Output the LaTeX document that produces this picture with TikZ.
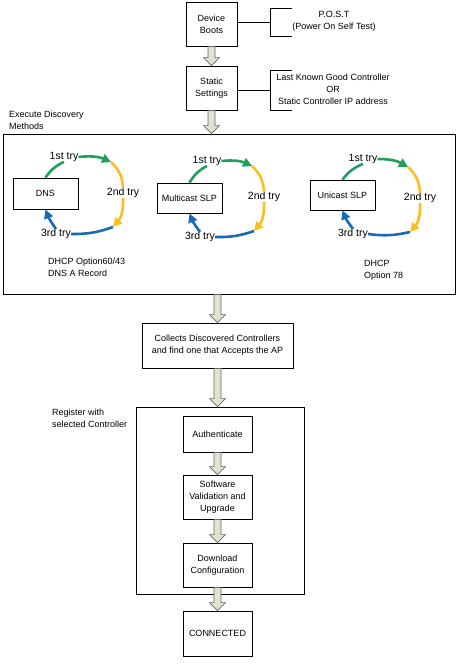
\documentclass[tikz,border=0pt]{standalone}
\usepackage{fontspec}
\setmainfont{Liberation Sans}
\usetikzlibrary{arrows.meta,positioning,calc}
\definecolor{tryg}{RGB}{30,160,90}
\definecolor{tryy}{RGB}{250,190,30}
\definecolor{tryb}{RGB}{25,105,185}
\definecolor{blkf}{RGB}{226,226,208}
\begin{document}
\begin{tikzpicture}[x=1pt,y=-1pt,inner sep=0pt]
  \useasboundingbox(0,0)rectangle(457,672);
  \fontsize{9}{12}\selectfont
  \tikzstyle{b}=[draw,line width=0.8pt,align=center,minimum width=69pt,minimum height=44pt]
  \tikzstyle{t}=[font=\fontsize{10.5}{12}\selectfont]
  \node[b,minimum width=51pt](boot)at(211.5,24){Device\\Boots};
  \node[b,minimum width=51pt](stat)at(211.5,88){Static\\Settings};
  \node[align=center](post)at(334,21){P.O.S.T\\(Power On Self Test)};
  \node[align=center](lkg)at(333,89){Last Known Good Controller\\OR\\Static Controller IP address};
  \coordinate(pb)at(270,22);\coordinate(lb)at(270,90);
  \draw[line width=0.8pt](boot.east|-pb)--(pb);\draw[line width=0.8pt](292,8)-|(270,36)--(292,36);
  \draw[line width=0.8pt](stat.east|-lb)--(lb);\draw[line width=0.8pt](292,70)-|(270,110)--(292,110);
  \node[align=left,anchor=west](exec)at(9,120.5){Execute Discovery\\Methods};
  \node[b,minimum width=452pt,minimum height=160pt](disc)at(229,214){};
  \node[b,minimum width=65pt,minimum height=31pt](dns)at(45.5,193.5){DNS};
  \node[b,minimum width=65pt,minimum height=30pt](mslp)at(189.5,198){Multicast SLP};
  \node[b,minimum width=65pt,minimum height=30pt](uslp)at(342.5,195){Unicast SLP};
  \node[align=left,anchor=west](dhcpa)at(48,267){DHCP Option60/43\\DNS A Record};
  \node[align=left,anchor=west](dhcpb)at(364,270){DHCP\\Option 78};
  % try labels and arc ends
  \foreach\p/\ax/\ay/\bx/\by/\cx/\cy in{a/64/157/123/193/56/234,b/207/161/264/197/200/237,c/363/159/420/198/353/234}{
    \node[t](\p-1)at(\ax,\ay){1st try};
    \node[t](\p-2)at(\bx,\by){2nd try};
    \node[t](\p-3)at(\cx,\cy){3rd try};
    \coordinate(\p-g)at($(\bx,\by)+(-12,-31)$);
    \coordinate(\p-y)at($(\bx,\by)+(-10,34)$);}
  \tikzstyle{c}=[line width=2.6pt,bend left=15]
  \tikzstyle{h}=[-{Triangle[length=9pt,width=9pt]}]
  \foreach\o/\p in{dns/a,mslp/b,uslp/c}{
    \draw[c,tryg](\o.north)to(\p-1.south);
    \draw[c,h,tryg](\p-1.east)to(\p-g);
    \draw[c,tryy,bend left=22](\p-g)to(\p-2.north);
    \draw[c,h,tryy,bend left=22](\p-2.south)to(\p-y);
    \draw[c,tryb,bend left=10](\p-y)to(\p-3.east);
    \draw[c,h,tryb,bend left=8](\p-3.north)to(\o.south);}
  \node[b,minimum width=151pt,minimum height=45pt](coll)at(217.5,345.5){Collects Discovered Controllers\\and find one that Accepts the AP};
  \node[align=left,anchor=west](regl)at(52,418.5){Register with\\selected Controller};
  \node[b,minimum width=168pt,minimum height=187pt](reg)at(220,500.5){};
  \node[b,minimum height=36pt](auth)at(217.5,434){Authenticate};
  \node[b](soft)at(217.5,497){Software\\Validation and\\Upgrade};
  \node[b](down)at(217.5,565){Download\\Configuration};
  \node[b,minimum height=45pt](conn)at(217.5,633.5){CONNECTED};
  \tikzstyle{blk}=[draw=black!60,fill=blkf,line width=0.7pt]
  \foreach\o/\d/\k in{boot/stat/boot,stat/disc/stat,disc/coll/coll,coll/reg/auth,auth/soft/auth,soft/down/auth,down/conn/auth}{
    \draw[blk]let\p1=(\o.south-|\k),\p2=(\d.north-|\k)in
      (\x1-3.5pt,\y1)--(\x1+3.5pt,\y1)--(\x1+3.5pt,\y2+8pt)--(\x1+8pt,\y2+8pt)--(\x1,\y2)
      --(\x1-8pt,\y2+8pt)--(\x1-3.5pt,\y2+8pt)--cycle;}
\end{tikzpicture}
\end{document}
